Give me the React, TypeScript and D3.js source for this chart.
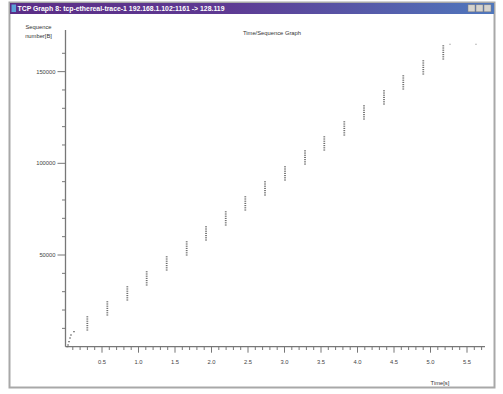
import React from "react";
import * as d3 from "d3";

const W = 503;
const H = 394;

// Title / labels
const windowTitle = "TCP Graph 8: tcp-ethereal-trace-1 192.168.1.102:1161 -> 128.119";
const chartTitle = "Time/Sequence Graph";
const yLabelLines = ["Sequence", "number[B]"];
const xLabel = "Time[s]";

// Early (slow-start) segments near origin
const earlyTimes = [0.026, 0.035, 0.048, 0.062, 0.075, 0.116];
const earlySeq = [1, 930, 2730, 4740, 6380, 8180];

// Bursts: time of each burst and first sequence number in it
const burstTimes = [0.299, 0.573, 0.847, 1.112, 1.386, 1.66, 1.925, 2.195, 2.463, 2.733, 3.007, 3.281, 3.545, 3.819, 4.089, 4.363, 4.627, 4.901, 5.175];
const burstStartSeq = [9100, 17290, 25470, 33650, 41820, 50000, 58180, 66360, 74540, 82720, 90900, 99600, 107250, 115430, 124150, 132340, 140520, 148700, 156880];
const segmentsPerBurst = 7;
const segmentSize = 1200;

// Isolated light dots at the top right
const lateTimes = [5.267, 5.623];
const lateSeq = [164900, 164900];

// Ticks
const xMajorTicks = [0.5, 1.0, 1.5, 2.0, 2.5, 3.0, 3.5, 4.0, 4.5, 5.0, 5.5];
const xMinorTicks = d3.range(1, 58).map((i) => i / 10);
const yMajorTicks = [50000, 100000, 150000];
const yMinorTicks = d3.range(1, 17).map((i) => i * 10000);

export default function App() {
  const x = d3.scaleLinear().domain([0, 5.75]).range([65.5, 485.25]);
  const y = d3.scaleLinear().domain([0, 172700]).range([346.7, 30]);
  const x0 = x(0);
  const y0 = y(0);
  const font = "'Liberation Sans', Arial, sans-serif";

  const points: { t: number; s: number }[] = [];
  earlyTimes.forEach((t, i) => points.push({ t, s: earlySeq[i] }));
  burstTimes.forEach((t, i) => {
    for (let k = 0; k < segmentsPerBurst; k++) {
      points.push({ t, s: burstStartSeq[i] + k * segmentSize });
    }
  });

  const isMajor = (v: number) => xMajorTicks.some((m) => Math.abs(m - v) < 1e-6);
  const isMajorY = (v: number) => yMajorTicks.includes(v);

  return (
    <div style={{ position: "absolute", left: 0, top: 0 }}>
      <svg width={W} height={H} style={{ display: "block" }}>
        <defs>
          <linearGradient id="tb" x1="0" x2="1" y1="0" y2="0">
            <stop offset="0" stopColor="#5b2d86" />
            <stop offset="0.45" stopColor="#5e3a93" />
            <stop offset="1" stopColor="#4f77bd" />
          </linearGradient>
        </defs>
        <rect x={0} y={0} width={W} height={H} fill="#ffffff" />
        {/* window */}
        <rect x={9.5} y={2.5} width={485} height={385} fill="#ffffff" stroke="#a8a8a8" strokeWidth={2} />
        <rect x={10} y={3} width={484} height={11} fill="url(#tb)" />
        <rect x={11.5} y={4.5} width={4.5} height={7.5} fill="#5aa0d8" />
        <text x={17.5} y={11.3} fill="#ffffff" fontFamily={font} fontWeight="bold" fontSize={6.8}
          textLength={207} lengthAdjust="spacingAndGlyphs">
          {windowTitle}
        </text>
        {[468, 476, 484].map((bx, i) => (
          <rect key={i} x={bx} y={4.8} width={7} height={7} fill="#d6d3ce" stroke="#808080" strokeWidth={0.5} />
        ))}

        {/* labels */}
        <text x={38.5} y={29} textAnchor="middle" fontFamily={font} fontSize={5.8} fill="#333">{yLabelLines[0]}</text>
        <text x={38.5} y={37.5} textAnchor="middle" fontFamily={font} fontSize={5.8} fill="#333">{yLabelLines[1]}</text>
        <text x={272} y={34.5} textAnchor="middle" fontFamily={font} fontSize={5.8} fill="#333">{chartTitle}</text>
        <text x={440} y={385} textAnchor="middle" fontFamily={font} fontSize={5.8} fill="#333">{xLabel}</text>

        {/* axes */}
        <line x1={x0} x2={x0} y1={30} y2={y0} stroke="#777" strokeWidth={1.3} />
        <line x1={x0} x2={485} y1={y0} y2={y0} stroke="#777" strokeWidth={1.3} />
        {yMinorTicks.map((v) => (
          <line key={"ym" + v} x1={x0 - (isMajorY(v) ? 8 : 3.5)} x2={x0} y1={y(v)} y2={y(v)} stroke="#777" strokeWidth={1} />
        ))}
        {yMajorTicks.map((v) => (
          <text key={"yl" + v} x={55.5} y={y(v) + 2} textAnchor="end" fontFamily={font} fontSize={5.8} fill="#444">
            {v}
          </text>
        ))}
        {xMinorTicks.map((v) => (
          <line key={"xm" + v} x1={x(v)} x2={x(v)} y1={y0} y2={y0 + (isMajor(v) ? 6 : 3.3)} stroke="#777" strokeWidth={1} />
        ))}
        {xMajorTicks.map((v) => (
          <text key={"xl" + v} x={x(v)} y={364} textAnchor="middle" fontFamily={font} fontSize={5.8} fill="#444">
            {v.toFixed(1)}
          </text>
        ))}

        {/* segments */}
        {points.map((p, i) => (
          <rect key={"p" + i} x={x(p.t) - 0.9} y={y(p.s) - 0.55} width={1.8} height={1.1} fill="#6a6a6a" />
        ))}
        {lateTimes.map((t, i) => (
          <rect key={"l" + i} x={x(t) - 0.8} y={y(lateSeq[i]) - 0.6} width={1.6} height={1.2} fill="#bbb" />
        ))}
      </svg>
    </div>
  );
}
